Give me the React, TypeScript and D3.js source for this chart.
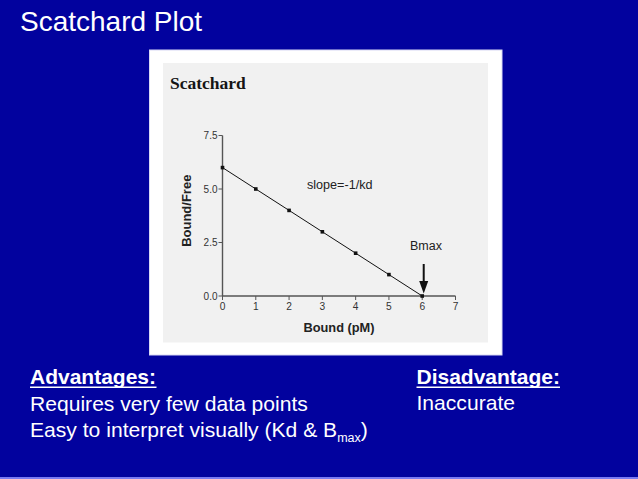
import React from "react";
import * as d3 from "d3";

const boundValues = [0, 1, 2, 3, 4, 5, 6];
const boundFreeValues = [6, 5, 4, 3, 2, 1, 0];
const xTickValues = [0, 1, 2, 3, 4, 5, 6, 7];
const yTickValues = [0, 2.5, 5, 7.5];
const yTickLabels = ["0.0", "2.5", "5.0", "7.5"];
const bmaxValue = 6;

const W = 638;
const H = 479;

export default function App() {
  const x = d3.scaleLinear().domain([0, 7]).range([222.5, 455.5]);
  const y = d3.scaleLinear().domain([0, 7.5]).range([296, 135.5]);
  const pts = boundValues.map((b, i) => [b, boundFreeValues[i]] as [number, number]);
  const line = d3
    .line<[number, number]>()
    .x((d) => x(d[0]))
    .y((d) => y(d[1]));

  const axisColor = "#555";
  const labelColor = "#333";
  const sans = "Arial, 'Liberation Sans', sans-serif";
  const bx = x(bmaxValue);

  return (
    <div style={{ position: "fixed", left: 0, top: 0, width: W, height: H }}>
      <svg width={W} height={H} style={{ display: "block" }}>
        <rect x={0} y={0} width={W} height={H} fill="#02029e" />
        <rect x={0} y={477} width={W} height={2} fill="#7a7af2" />
        <text x={20} y={31} fontFamily={sans} fontSize={28} fill="#ffffff">
          Scatchard Plot
        </text>

        {/* chart panel */}
        <rect x={149.5} y={50} width={352.5} height={305} fill="#ffffff" stroke="#d8d8f4" strokeWidth={1} />
        <rect x={163} y={63} width={325} height={279.5} fill="#f1f1f1" />
        <text
          x={170}
          y={88.5}
          fontFamily="'Liberation Serif', 'Times New Roman', serif"
          fontWeight="bold"
          fontSize={17.5}
          fill="#151515"
        >
          Scatchard
        </text>

        {/* axes */}
        <line x1={x(0)} x2={x(7)} y1={y(0)} y2={y(0)} stroke={axisColor} strokeWidth={1.4} />
        <line x1={x(0)} x2={x(0)} y1={y(0)} y2={y(7.5)} stroke={axisColor} strokeWidth={1.4} />
        {xTickValues.map((t) => (
          <g key={"xt" + t}>
            <line x1={x(t)} x2={x(t)} y1={y(0)} y2={y(0) + 4} stroke={axisColor} strokeWidth={1} />
            <text
              x={x(t)}
              y={309.5}
              textAnchor="middle"
              fontFamily={sans}
              fontSize={10.2}
              fill={labelColor}
            >
              {t}
            </text>
          </g>
        ))}
        {yTickValues.map((t, i) => (
          <g key={"yt" + t}>
            <line x1={x(0) - 4} x2={x(0)} y1={y(t)} y2={y(t)} stroke={axisColor} strokeWidth={1} />
            <text
              x={217.5}
              y={y(t) + 3.5}
              textAnchor="end"
              fontFamily={sans}
              fontSize={10}
              fill={labelColor}
            >
              {yTickLabels[i]}
            </text>
          </g>
        ))}
        <text
          transform={`translate(190.5, ${(y(0) + y(7.5)) / 2 - 5}) rotate(-90)`}
          textAnchor="middle"
          fontFamily={sans}
          fontWeight="bold"
          fontSize={13}
          fill="#222"
        >
          Bound/Free
        </text>
        <text x={339} y={332} textAnchor="middle" fontFamily={sans} fontWeight="bold" fontSize={12.8} fill="#222">
          Bound (pM)
        </text>

        {/* data */}
        <path d={line(pts) || ""} fill="none" stroke="#111" strokeWidth={1} />
        {pts.map((p, i) => (
          <rect key={"p" + i} x={x(p[0]) - 1.8} y={y(p[1]) - 1.8} width={3.6} height={3.6} fill="#111" />
        ))}

        <text x={307} y={189} fontFamily={sans} fontSize={12.6} fill="#222">
          slope=-1/kd
        </text>
        <text x={410} y={250} fontFamily={sans} fontSize={12.5} fill="#222">
          Bmax
        </text>
        <line x1={bx + 1.5} x2={bx + 1.5} y1={264} y2={283} stroke="#111" strokeWidth={2} />
        <path
          d={`M${bx + 1.5 - 4.5},${281} L${bx + 1.5 + 4.5},${281} L${bx + 1.5},${293.5} Z`}
          fill="#111"
        />

        {/* bottom text */}
        <g fontFamily={sans} fill="#ffffff">
          <text x={30} y={384} fontSize={21} fontWeight="bold">
            Advantages:
          </text>
          <rect x={30} y={386.5} width={126.5} height={1.5} fill="#ffffff" />
          <text x={30} y={411} fontSize={21.1}>
            Requires very few data points
          </text>
          <text x={30} y={436.5} fontSize={21.1}>
            Easy to interpret visually (Kd &amp; B
            <tspan fontSize={12.5} dy={5}>max</tspan>
            <tspan dy={-5}>)</tspan>
          </text>
          <text x={416.5} y={384} fontSize={21} fontWeight="bold">
            Disadvantage:
          </text>
          <rect x={416.5} y={386.5} width={143.5} height={1.5} fill="#ffffff" />
          <text x={416.5} y={410} fontSize={21.1}>
            Inaccurate
          </text>
        </g>
      </svg>
    </div>
  );
}
